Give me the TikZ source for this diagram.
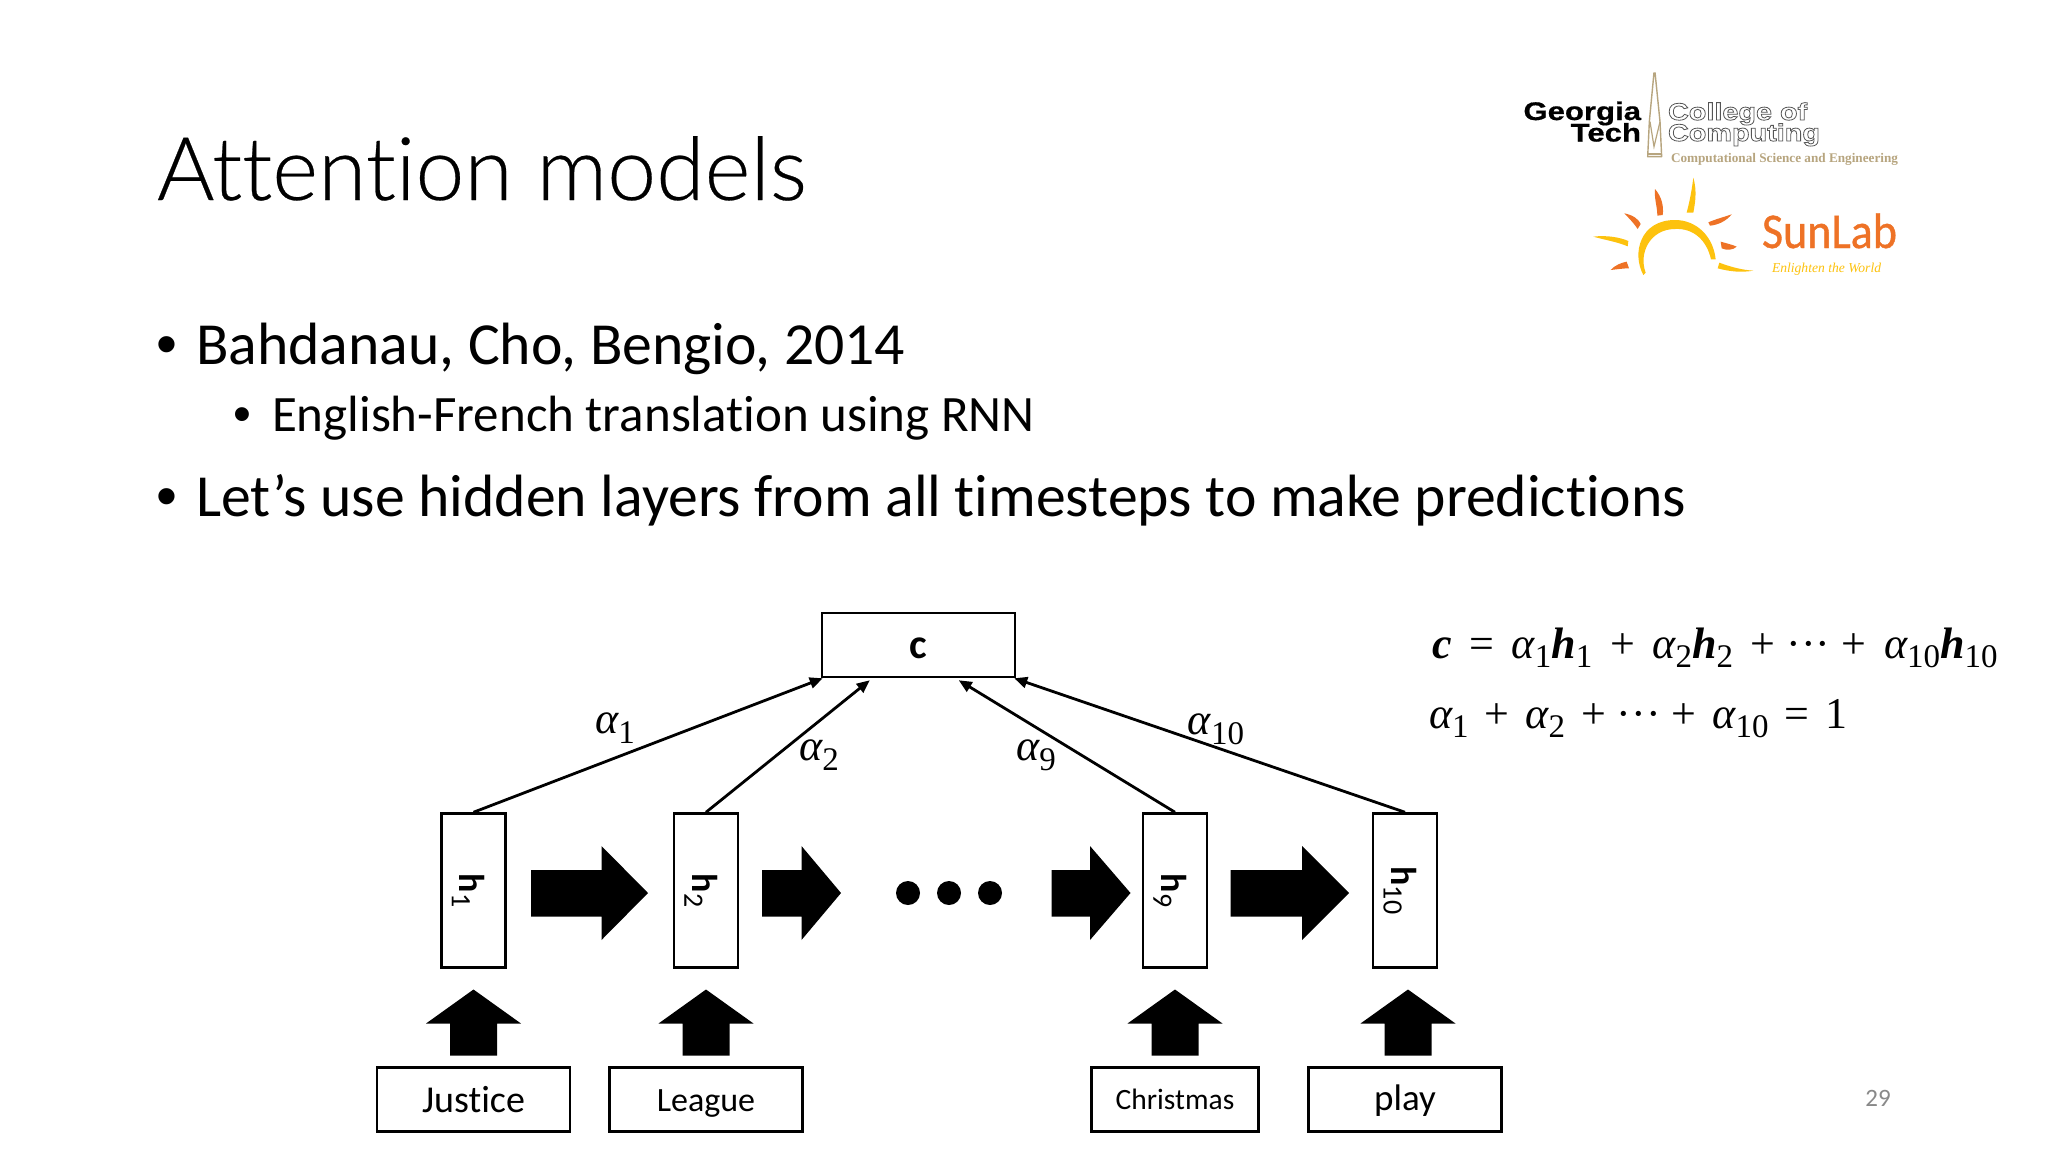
\documentclass[tikz,border=0pt]{standalone}
\usepackage{fontspec}
\usetikzlibrary{arrows.meta,calc}
\setmainfont[Ligatures=NoCommon]{Carlito}
\newfontfamily\lightfont[Ligatures=NoCommon,FakeBold=0.3]{Lato Light}
\newfontfamily\gtfont[FakeStretch=1.22,FakeBold=0.6]{Liberation Sans}
\newfontfamily\collfont[FakeStretch=1.2]{Liberation Sans}
\newfontfamily\serfont{Liberation Serif}
\newfontfamily\bulfont{Liberation Sans}
\newfontfamily\sunfont[FakeStretch=0.92,FakeBold=0.8]{Carlito}
\definecolor{gold}{HTML}{B7A57F}
\definecolor{sunyellow}{HTML}{FDC20E}
\definecolor{sunorange}{HTML}{EE7226}
\newcommand{\fs}[1]{\fontsize{#1}{#1}\selectfont}
\newcommand{\ga}{{\serfont\itshape α}}
\newcommand{\lsub}[2]{{\raisebox{-0.22em}{\fs{#1}\serfont #2}}}
\newcommand{\gp}{\hspace{5pt}}
\newcommand{\gpa}{\hspace{6.7pt}}
\newcommand{\lowtxt}[2]{\raisebox{-#1}[0pt][0pt]{#2}}
\newcommand{\rlab}[3]{\kern-5pt\rotatebox[origin=c]{-90}{\fs{#1}\bfseries h{\raisebox{-0.22em}{\fs{#2}\mdseries #3}}}\kern5pt}
\tikzset{
  x=1pt,y=-1pt,
  wbox/.style={draw=black,line width=2.5pt,fill=white,inner sep=0pt,rectangle},
  body/.style={anchor=base west,inner sep=0pt,outer sep=0pt,text=black},
  link/.style={draw=black,line width=2.8pt,-{Triangle[length=13pt,width=11pt]}},
  blk/.style={fill=black,draw=none},
  alab/.style={inner sep=0pt},
}
\newcommand{\rarrow}[3]{\fill[blk] (#1,870)--(#2,870)--(#2,846)--(#3,893)--(#2,940)--(#2,916.5)--(#1,916.5)--cycle;}
\newcommand{\uarrow}[3]{\fill[blk] ({#1-#2},1055.5)--({#1+#2},1055.5)--({#1+#2},1023.5)--({#1+#3},1023.5)--(#1,989.5)--({#1-#3},1023.5)--({#1-#2},1023.5)--cycle;}
\begin{document}
\begin{tikzpicture}
\useasboundingbox (0,0) rectangle (2048,1152);
\fill[white] (0,0) rectangle (2048,1152);
% title and bullets
\node[body] (title) at (157,200) {\fs{87.8}\lightfont Attention models};
\node[body] (b1) at (156,364) {\fs{59.7}\bulfont •};
\node[body] (t1) at (196,364) {\fs{59.7}Bahdanau, Cho, Bengio, 2014};
\node[body] (b2) at (233,431.5) {\fs{51}\bulfont •};
\node[body] (t2) at (272,431.5) {\fs{51}English-French translation using RNN};
\node[body] (b3) at (156,516) {\fs{59.7}\bulfont •};
\node[body] (t3) at (196,516) {\fs{59.7}Let’s use hidden layers from all timesteps to make predictions};
% boxes
\node[wbox,minimum width=193pt,minimum height=64pt] (c) at (918.5,645) {\lowtxt{13pt}{\fs{42}\bfseries c}};
\node[wbox,minimum width=64pt,minimum height=154pt] (h1) at (473.5,890.5) {\rlab{36}{28}{1}};
\node[wbox,minimum width=64pt,minimum height=154pt] (h2) at (706,890.5) {\rlab{36}{28}{2}};
\node[wbox,minimum width=64pt,minimum height=154pt] (h9) at (1175,890.5) {\rlab{36}{28}{9}};
\node[wbox,minimum width=64pt,minimum height=154pt] (h10) at (1405,890.5) {\rlab{36}{28}{10}};
\node[wbox,minimum width=193pt,minimum height=64pt] (w1) at (473.5,1099.5) {\lowtxt{12.5pt}{\fs{38}Justice}};
\node[wbox,minimum width=193pt,minimum height=64pt] (w2) at (706,1099.5) {\lowtxt{11.5pt}{\fs{34}League}};
\node[wbox,minimum width=167pt,minimum height=64pt] (w9) at (1175,1099.5) {\lowtxt{10pt}{\fs{29.5}Christmas}};
\node[wbox,minimum width=193pt,minimum height=64pt] (w10) at (1405,1099.5) {\lowtxt{11pt}{\fs{37}play}};
% connectors
\draw[link] (h1.north) -- ($(c.south west)+(2,0)$);
\draw[link] (h2.north) -- ($(c.south west)+(49,2)$);
\draw[link] (h9.north) -- ($(c.south west)+(138,2)$);
\draw[link] (h10.north) -- ($(c.south east)+(-2,0)$);
% alpha labels
\node[alab] (a1) at (615,728) {\fs{44}\ga\lsub{33}{1}};
\node[alab] (a2) at (819,755) {\fs{44}\ga\lsub{33}{2}};
\node[alab] (a9) at (1036,755) {\fs{44}\ga\lsub{33}{9}};
\node[alab] (a10) at (1216,729) {\fs{44}\ga\lsub{33}{10}};
% block arrows
\rarrow{531}{601.5}{648}
\rarrow{762}{801.5}{841}
\rarrow{1051.5}{1090}{1130.5}
\rarrow{1230.7}{1302}{1349}
\uarrow{473.5}{23.5}{47.5}
\uarrow{706}{23.5}{47.5}
\uarrow{1175}{23.5}{47.5}
\uarrow{1408}{23.5}{47.5}
\fill (908,893) circle (12);
\fill (949,893) circle (12);
\fill (990,893) circle (12);
% equations
\node[body] (eq1) at (1432,658) {\fs{44}\serfont{\bfseries\itshape c}\gpa{} = \gpa\ga\lsub{33}{1}{\bfseries\itshape h}\lsub{33}{1}\gpa{} + \gpa\ga\lsub{33}{2}{\bfseries\itshape h}\lsub{33}{2}\gpa{} + ··· + \gpa\ga\lsub{33}{10}{\bfseries\itshape h}\lsub{33}{10}};
\node[body] (eq2) at (1429,728) {\fs{44}\serfont \ga\lsub{33}{1}\gp{} + \gp\ga\lsub{33}{2}\gp{} + ··· + \gp\ga\lsub{33}{10}\gp{} = \gp 1};
\node[alab] (pg) at (1878,1098) {\fs{25}\textcolor[HTML]{898989}{29}};
% Georgia Tech logo
\node[body,anchor=base east] (gt1) at (1641,120) {\fs{25.5}\gtfont\bfseries Georgia};
\node[body,anchor=base east] (gt2) at (1641,141.5) {\fs{25.5}\gtfont\bfseries Tech};
\begin{scope}[shift={(1480,50)},xscale=1/3,yscale=1/3]
\draw[gold,line width=1.4pt,line join=round] (522,67) -- (508,215) -- (503,320) -- (545,320) -- (540,215) -- (525,67);
\draw[gold,line width=1.2pt] (510,215) -- (522,290) -- (540,215);
\draw[gold,line width=1.2pt] (503,312) -- (545,312);
% sun
\fill[sunyellow] (490,675) .. controls (455,610) and (480,510) .. (585,510) .. controls (650,510) and (700,560) .. (707,628) -- (693,628) .. controls (680,570) and (640,534) .. (585,537) .. controls (510,537) and (475,610) .. (497,668) -- cycle;
\fill[sunyellow] (640,383) .. controls (652,425) and (645,460) .. (640,488) -- (620,488) .. controls (630,450) and (636,415) .. (640,383) -- cycle;
\fill[sunorange] (525,417) .. controls (545,440) and (552,470) .. (548,495) -- (532,497) .. controls (532,470) and (522,445) .. (525,417) -- cycle;
\fill[sunorange] (433,490) .. controls (460,495) and (478,510) .. (482,522) -- (473,537) .. controls (462,520) and (447,505) .. (433,490) -- cycle;
\fill[sunyellow] (340,560) .. controls (380,555) and (420,562) .. (445,573) -- (443,589) .. controls (410,575) and (375,570) .. (340,560) -- cycle;
\fill[sunorange] (392,660) .. controls (405,645) and (425,638) .. (440,635) -- (447,655) .. controls (430,655) and (410,658) .. (392,660) -- cycle;
\fill[sunorange] (755,493) .. controls (735,500) and (705,508) .. (685,517) -- (690,527) .. controls (715,525) and (740,512) .. (755,493) -- cycle;
\fill[sunorange] (722,575) .. controls (740,580) and (760,585) .. (770,590) .. controls (760,600) and (740,602) .. (725,595) -- cycle;
\fill[sunyellow] (820,662) .. controls (785,660) and (750,650) .. (718,638) -- (713,655) .. controls (750,665) and (785,668) .. (820,662) -- cycle;
\end{scope}
% outlined words
\node[body] (coll1) at (1668,120) {\special{pdf:code 1 Tr 0.8 w}\fs{24}\color[HTML]{555555}\collfont\bfseries College of\special{pdf:code 0 Tr}};
\node[body] (coll2) at (1668,141) {\special{pdf:code 1 Tr 0.8 w}\fs{24}\color[HTML]{555555}\collfont\bfseries Computing\special{pdf:code 0 Tr}};
\node[body] (cse) at (1671,162.5) {\fs{13.2}\color{gold}\serfont\bfseries Computational Science and Engineering};
\node[body] (sun) at (1762,248) {\fs{50}\color{sunorange}\sunfont SunLab};
\node[body] (enl) at (1772,272) {\fs{13.6}\color{sunyellow}\serfont\itshape Enlighten the World};
\end{tikzpicture}
\end{document}
